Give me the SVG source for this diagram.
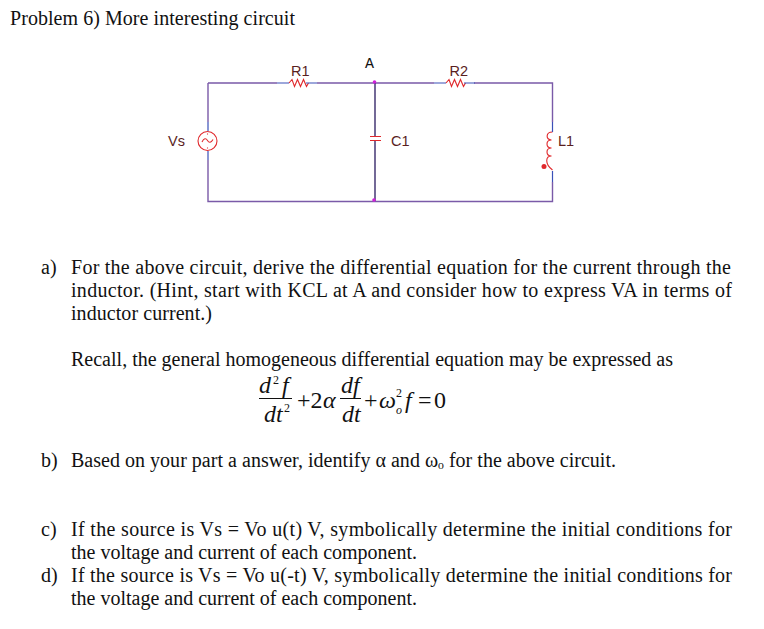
<svg xmlns="http://www.w3.org/2000/svg" width="764" height="629" viewBox="0 0 764 629">
<style>
.t{font-family:"Liberation Serif",serif;font-size:20px;fill:#111}
.l{font-family:"Liberation Sans",sans-serif;font-size:14.500px;fill:#5a1e1e}
.i{font-style:italic}
.w{fill:none;stroke:#7a5aa8;stroke-width:1.4}
.b{fill:none;stroke:#3a50b8;stroke-width:1.2}
.r{fill:none;stroke:#e0282c;stroke-width:1.1}
.d{fill:#d020d8}
.m{font-family:"Liberation Serif",serif;font-size:24px;fill:#111}
.s{font-size:12px}
</style>
<rect width="764" height="629" fill="#fff"/>
<g id="connectors">
<path class="w" d="M208 83H277M317 83H434M474 83H552.500V122M552.500 182V201.500H208V160M208 122V83"/>
<path fill="none" stroke="#2a1a60" stroke-width="1.3" d="M375 83V136M375 141V201"/>
</g>
<g id="R1"><path class="r" d="M289 83l3-3.500 2.500 7 3-7 3 7 3-7 3 7 2-3.500"/><path class="b" d="M277 83h12M306 83h11"/><text class="l" x="291" y="76">R1</text></g>
<g id="R2"><path class="r" d="M446 83l3-3.500 2.500 7 3-7 3 7 3-7 3 7 2-3.500"/><path class="b" d="M434 83h12M464 83h11"/><text class="l" x="449.500" y="76">R2</text></g>
<g id="Vs"><circle class="r" cx="207.500" cy="141" r="9.500" fill="#fff"/><path class="r" d="M202 142c2-4 4-4 5.500-1.500s3.500 2.500 5.500-1"/><path class="r" d="M207.500 133.500v1M207.500 147.500v1"/><path class="b" d="M208 122v9M208 151v9"/><text class="l" x="168" y="146">Vs</text></g>
<g id="C1"><path class="r" d="M370 136.500h11M370 140.500h11"/><text class="l" x="391" y="146">C1</text></g>
<g id="L1"><path class="r" d="M552.500 132c-7 0-7 8-1 8c-6 0-6 8 0 8c-6 0-6 8 0 8c-6 0-7 8 1 14"/><path class="b" d="M552.500 122v10M552.500 171v11"/><circle cx="544" cy="166.500" r="2.500" fill="#e0282c"/><text class="l" x="558" y="146">L1</text></g>
<g id="nodeA"><circle class="d" cx="374.500" cy="82" r="1.800"/><text x="365" y="68" font-family="Liberation Mono,monospace" font-size="15" fill="#111">A</text></g>
<g id="nodeB"><circle class="d" cx="374" cy="200" r="1.800"/></g>
<g id="text">
<text class="t" x="10" y="25" textLength="285">Problem 6) More interesting circuit</text>
<text class="t" x="41" y="274">a)</text>
<text class="t" x="71" y="274" textLength="660">For the above circuit, derive the differential equation for the current through the</text>
<text class="t" x="71" y="297" textLength="661">inductor. (Hint, start with KCL at A and consider how to express VA in terms of</text>
<text class="t" x="71" y="320" textLength="141">inductor current.)</text>
<text class="t" x="71" y="366" textLength="602">Recall, the general homogeneous differential equation may be expressed as</text>
<text class="t" x="41" y="467">b)</text>
<text class="t" x="71" y="467" textLength="545">Based on your part a answer, identify α and ωₒ for the above circuit.</text>
<text class="t" x="41" y="536">c)</text>
<text class="t" x="71" y="536" textLength="661">If the source is Vs = Vo u(t) V, symbolically determine the initial conditions for</text>
<text class="t" x="71" y="559" textLength="346">the voltage and current of each component.</text>
<text class="t" x="41" y="582">d)</text>
<text class="t" x="71" y="582" textLength="661">If the source is Vs = Vo u(-t) V, symbolically determine the initial conditions for</text>
<text class="t" x="71" y="605" textLength="346">the voltage and current of each component.</text>
</g>
<g id="equation">
<path d="M259 398.500H292M340 398.500H361" stroke="#111" stroke-width="1"/>
<text class="m i" x="259" y="393">d</text><text class="m s" x="273" y="384">2</text><text class="m i" x="282" y="393">f</text>
<text class="m i" x="264" y="422">dt</text><text class="m s" x="284" y="412">2</text>
<text class="m" x="297" y="408">+2</text><text class="m i" x="323" y="408">α</text>
<text class="m i" x="341" y="393">df</text><text class="m i" x="342" y="422">dt</text>
<text class="m" x="364" y="408">+</text><text class="m i" x="379" y="408">ω</text><text class="m s" x="396" y="397">2</text><text class="m s i" x="396" y="414">o</text>
<text class="m i" x="405" y="408">f</text><text class="m" x="418" y="408" textLength="28">= 0</text>
</g>
</svg>
